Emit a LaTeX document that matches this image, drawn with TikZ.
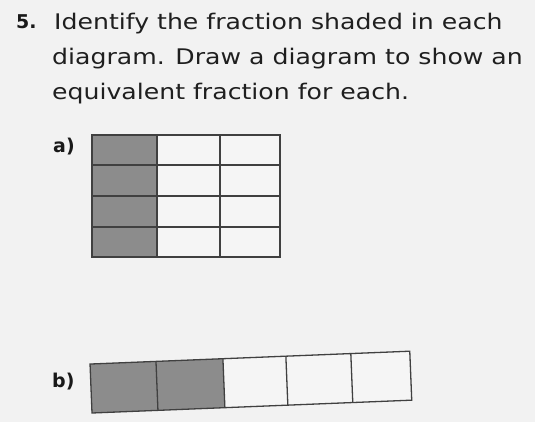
\documentclass[tikz,border=0pt]{standalone}
\usepackage{fontspec}
\setmainfont{DejaVu Sans}
\newfontfamily\widefont[FakeStretch=1.17]{DejaVu Sans}
\begin{document}
\begin{tikzpicture}[x=1pt,y=-1pt,
  txt/.style={anchor=base west,inner sep=0pt,text=black!88,font=\widefont\fontsize{21.5}{25}\selectfont},
  lbl/.style={anchor=base west,inner sep=0pt,text=black!90,font=\fontsize{19}{22}\selectfont\bfseries},
  gridline/.style={draw=black!75,line width=1.3pt},
  shade/.style={fill=black!45}]
\fill[black!5] (0,0) rectangle (535,422);
\useasboundingbox (0,0) rectangle (535,422);
% question text
\node[lbl] (num) at (16,29) {5.};
\node[txt] (l1) at (54,30) {Identify the fraction shaded in each};
\node[txt] (l2) at (52,65) {diagram. Draw a diagram to show an};
\node[txt] (l3) at (52,100) {equivalent fraction for each.};
% a)
\node[lbl] (la) at (53,153) {a)};
\fill[shade] (92,135) rectangle (157,257);
\fill[white!96!black] (157,135) rectangle (280,257);
\draw[gridline] (92,135) rectangle (280,257);
\draw[gridline] (157,135) -- (157,257);
\draw[gridline] (220,135) -- (220,257);
\draw[gridline] (92,165) -- (280,165);
\draw[gridline] (92,196) -- (280,196);
\draw[gridline] (92,227) -- (280,227);
% b)
\node[lbl] (lb) at (52,387) {b)};
\begin{scope}[shift={(92,413)},rotate=2.3]
\fill[shade] (0,0) rectangle (133,-49);
\fill[white!96!black] (133,0) rectangle (320,-49);
\draw[gridline] (0,0) rectangle (320,-49);
\draw[gridline] (66,0) -- (66,-49);
\draw[gridline] (133,0) -- (133,-49);
\draw[gridline] (196,0) -- (196,-49);
\draw[gridline] (261,0) -- (261,-49);
\end{scope}
\end{tikzpicture}
\end{document}
